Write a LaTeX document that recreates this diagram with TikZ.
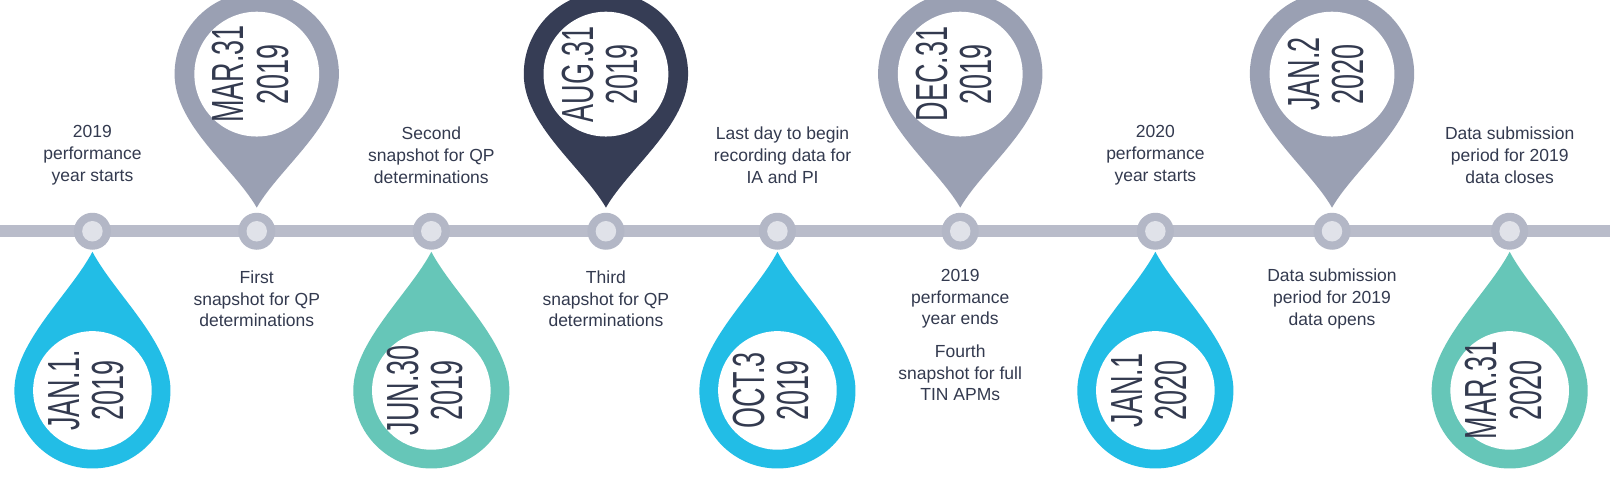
\documentclass[tikz,border=0pt]{standalone}
\usepackage{fontspec}
\setmainfont{Liberation Sans}
\newfontfamily\datefont{Liberation Sans}
\usetikzlibrary{calc}
\definecolor{cblue}{HTML}{22BDE6}
\definecolor{cteal}{HTML}{66C6B8}
\definecolor{cgray}{HTML}{9AA0B3}
\definecolor{cnavy}{HTML}{363D55}
\definecolor{cbar}{HTML}{B9BCCA}
\definecolor{cring}{HTML}{B3B7C6}
\definecolor{cinner}{HTML}{E0E2E9}
\definecolor{ctext}{HTML}{333A4F}
\tikzset{
 lbl/.style={align=center,text=ctext,font=\fontsize{17.5}{21.6}\selectfont},
 dot/.style={circle,fill=cring,minimum size=37pt,inner sep=0pt},
 dotin/.style={circle,fill=cinner,minimum size=20.5pt,inner sep=0pt},
 date/.style={rotate=90,text=ctext,font=\datefont\fontsize{45}{43}\selectfont,inner sep=0pt},
}
% pin: #1 name, #2 x, #3 center y, #4 sign (+1 tip above), #5 d, #6 R, #7 color
\newcommand\mypin[7]{%
 \fill[#7] (#2,#3+#4*#5) .. controls (#2+0.28*#6,#3+#4*0.7*#5) and (#2+#6,#3+#4*0.62*#6) .. (#2+#6,#3)
   arc[start angle=0,end angle=-#4*180,radius=#6]
   .. controls (#2-#6,#3+#4*0.62*#6) and (#2-0.28*#6,#3+#4*0.7*#5) .. cycle;
 \node[circle,fill=white,minimum size=1.56*#6pt,inner sep=0pt] (#1) at (#2,#3) {};
}
\newcommand\dt[2]{\scalebox{0.6}[1]{\begin{tabular}{@{}c@{}}#1\\#2\end{tabular}}}
\begin{document}
\begin{tikzpicture}[x=1.027pt,y=1.027pt]
\fill[white] (0,0) rectangle (1610,488);
\fill[cbar] (0,244) rectangle (1610,256);
\mypin{p1}{90}{95}{1}{135}{76}{cblue}
\mypin{p3}{420}{95}{1}{135}{76}{cteal}
\mypin{p5}{757}{95}{1}{135}{76}{cblue}
\mypin{p7}{1125}{95}{1}{135}{76}{cblue}
\mypin{p9}{1470}{95}{1}{135}{76}{cteal}
\mypin{p2}{250}{403}{-1}{130}{80}{cgray}
\mypin{p4}{590}{403}{-1}{130}{80}{cnavy}
\mypin{p6}{935}{403}{-1}{130}{80}{cgray}
\mypin{p8}{1297}{403}{-1}{130}{80}{cgray}
\foreach \n/\x in {1/90,2/250,3/420,4/590,5/757,6/935,7/1125,8/1297,9/1470}{
 \node[dot] (d\n) at (\x,250) {};
 \node[dotin] at (d\n) {};
}
\node[date] at (p1) {\dt{JAN.1.}{2019}};
\node[date] at (p2) {\dt{MAR.31}{2019}};
\node[date] at (p3) {\dt{JUN.30}{2019}};
\node[date] at (p4) {\dt{AUG.31}{2019}};
\node[date] at (p5) {\dt{OCT.3}{2019}};
\node[date] at (p6) {\dt{DEC.31}{2019}};
\node[date] at (p7) {\dt{JAN.1}{2020}};
\node[date] at (p8) {\dt{JAN.2}{2020}};
\node[date] at (p9) {\dt{MAR.31}{2020}};
\node[lbl] (t1) at (90,324) {2019\\performance\\year starts};
\node[lbl] (t2) at (250,184) {First\\snapshot for QP\\determinations};
\node[lbl] (t3) at (420,324) {Second\\snapshot for QP\\determinations};
\node[lbl] (t4) at (590,184) {Third\\snapshot for QP\\determinations};
\node[lbl] (t5) at (762,324) {Last day to begin\\recording data for\\IA and PI};
\node[lbl] (t6) at (935,184) {2019\\performance\\year ends};
\node[lbl] (t6b) at (935,112) {Fourth\\snapshot for full\\TIN APMs};
\node[lbl] (t7) at (1125,324) {2020\\performance\\year starts};
\node[lbl] (t8) at (1297,184) {Data submission\\period for 2019\\data opens};
\node[lbl] (t9) at (1470,324) {Data submission\\period for 2019\\data closes};
\pgfresetboundingbox
\useasboundingbox (0pt,0pt) rectangle (1610pt,488pt);
\end{tikzpicture}
\end{document}
